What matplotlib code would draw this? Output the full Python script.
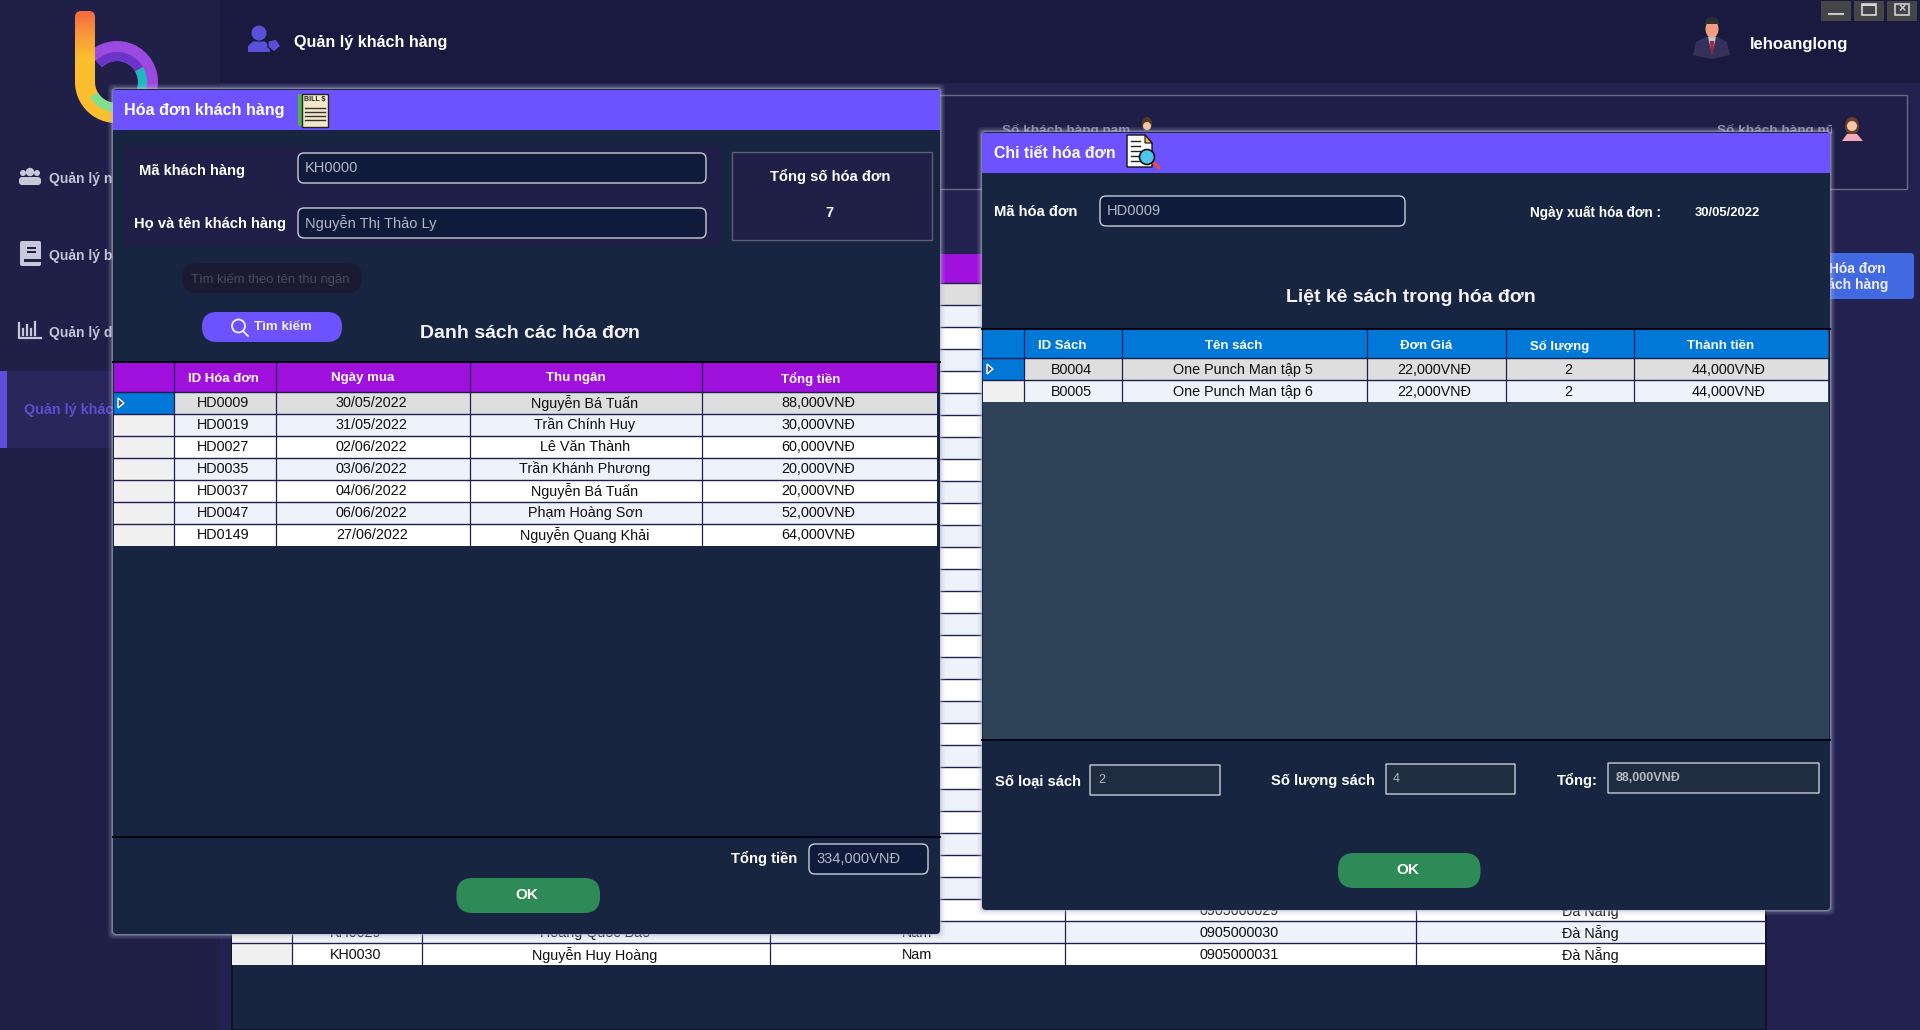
import matplotlib
matplotlib.use('Agg')
import matplotlib.pyplot as plt
import numpy as np
from matplotlib.patches import Rectangle, FancyBboxPatch, Circle, Wedge, Polygon, Ellipse

plt.rcParams['font.family'] = ['Liberation Sans', 'DejaVu Sans']

# ---- data ----
left_headers = ['ID Hóa đơn', 'Ngày mua', 'Thu ngân', 'Tổng tiền']
invoice_ids = ['HD0009', 'HD0019', 'HD0027', 'HD0035', 'HD0037', 'HD0047', 'HD0149']
invoice_dates = ['30/05/2022', '31/05/2022', '02/06/2022', '03/06/2022', '04/06/2022', '06/06/2022', '27/06/2022']
cashiers = ['Nguyễn Bá Tuấn', 'Trần Chính Huy', 'Lê Văn Thành', 'Trần Khánh Phương',
            'Nguyễn Bá Tuấn', 'Phạm Hoàng Sơn', 'Nguyễn Quang Khải']
invoice_totals = ['88,000VNĐ', '30,000VNĐ', '60,000VNĐ', '20,000VNĐ', '20,000VNĐ', '52,000VNĐ', '64,000VNĐ']

right_headers = ['ID Sách', 'Tên sách', 'Đơn Giá', 'Số lượng', 'Thành tiền']
book_ids = ['B0004', 'B0005']
book_names = ['One Punch Man tập 5', 'One Punch Man tập 6']
book_prices = ['22,000VNĐ', '22,000VNĐ']
book_qty = ['2', '2']
book_totals = ['44,000VNĐ', '44,000VNĐ']

back_ids = ['KH0029', 'KH0030']
back_names = ['Hoàng Quốc Bảo', 'Nguyễn Huy Hoàng']
back_genders = ['Nam', 'Nam']
back_phones = ['0905000029', '0905000030', '0905000031']
back_city = 'Đà Nẵng'
n_back_rows = 31

side_items = ['Quản lý nhân viên', 'Quản lý bán hàng', 'Quản lý doanh thu']
side_active = 'Quản lý khách hàng'

# ---- colours ----
C_SIDE = '#201F47'
C_TOP = '#1A1A40'
C_MAIN = '#232150'
C_BODY = '#182540'
C_HEAD = '#6C53FF'
C_BAND = '#1F1F47'
C_INPUT = '#101B3B'
C_PURPLE = '#A010DD'
C_BLUE = '#0078D7'
C_TINT = '#EDF2FB'
C_SEL = '#DEDEDE'
C_RH = '#F0F0F0'
C_GRID = '#1E1E50'
C_GREEN = '#2E8B57'

fig = plt.figure(figsize=(19.2, 10.3), dpi=100, facecolor=C_MAIN)
ax = fig.add_axes([0, 0, 1, 1])
ax.set_xlim(0, 1920)
ax.set_ylim(1030, 0)
ax.axis('off')


def rect(x0, y0, x1, y1, color, z, ec='none', lw=0):
    ax.add_patch(Rectangle((x0, y0), x1 - x0, y1 - y0, fc=color, ec=ec, lw=lw, zorder=z))


def rrect(x0, y0, x1, y1, r, color, z, ec='none', lw=0, alpha=None):
    ax.add_patch(FancyBboxPatch((x0, y0), x1 - x0, y1 - y0, boxstyle=f'round,pad=0,rounding_size={r}',
                                fc=color, ec=ec, lw=lw, zorder=z, alpha=alpha))


def txt(x, y, s, size=10, color='white', bold=False, ha='left', z=5):
    # +1: the screenshot text sits a pixel lower than va='center'
    return ax.text(x, y + 1, s, fontsize=size, color=color, fontweight='bold' if bold else 'normal',
                   ha=ha, va='center', zorder=z)


def grid_table(col_x, y_head, y_rows, z, head_color, headers, columns, head_shift, cell_shift, text_dy=0):
    # header, row header column, cell text
    rect(col_x[0], y_head, col_x[-1], y_rows[0], head_color, z)
    for i in range(len(y_rows) - 1):
        rect(col_x[0], y_rows[i], col_x[1], y_rows[i + 1], C_BLUE if i == 0 else C_RH, z)
        cell = C_SEL if i == 0 else (C_TINT if i % 2 else 'white')
        rect(col_x[1], y_rows[i], col_x[-1], y_rows[i + 1], cell, z)
    for x in col_x[1:-1]:
        ax.plot([x, x], [y_head, y_rows[-1]], color=C_GRID, lw=0.9, zorder=z + 0.1)
    for y in y_rows[:-1]:
        ax.plot([col_x[0], col_x[-1]], [y, y], color=C_GRID, lw=1, zorder=z + 0.1)
    yc = (y_head + y_rows[0]) / 2 + 1 + text_dy
    for j, h in enumerate(headers):
        txt((col_x[j + 1] + col_x[j + 2]) / 2 + head_shift[j], yc, h, size=9.5, bold=True, ha='center', z=z + 0.2)
    for j, col in enumerate(columns):
        for i, s in enumerate(col):
            txt((col_x[j + 1] + col_x[j + 2]) / 2 + cell_shift, (y_rows[i] + y_rows[i + 1]) / 2 + text_dy, s, size=10.4,
                color='#101010', ha='center', z=z + 0.2)
    # arrow of the selected row
    ax.add_patch(Polygon([[col_x[0] + 4, y_rows[0] + 6], [col_x[0] + 4, y_rows[0] + 16], [col_x[0] + 10, y_rows[0] + 11]],
                         fc='#555555', ec='white', lw=1, zorder=z + 0.2))


def dialog(x0, y0, x1, y1, y_head, z):
    # pale glow around the window
    for pad, a in [(5, 0.10), (3.5, 0.15), (2, 0.25), (1, 0.35)]:
        rrect(x0 - pad, y0 - pad, x1 + pad, y1 + pad, 5, '#B8B8D0', z, alpha=a)
    rrect(x0, y0, x1, y1, 4, C_BODY, z + 0.1)
    rect(x0, y0 + 1, x1, y_head, C_HEAD, z + 0.2)


def input_box(x0, y0, x1, y1, s, x_txt, z, r=6, fill=C_INPUT, size=10.5, color='#B4B8C4', bold=False, ec='#C8CCD4'):
    rrect(x0, y0, x1, y1, r, fill, z, ec=ec, lw=1)
    txt(x_txt, (y0 + y1) / 2 - 1, s, size=size, color=color, bold=bold, z=z + 0.1)


# ---- base screen ----
rect(0, 0, 220, 1030, C_SIDE, 1)
rect(220, 0, 1920, 83, C_TOP, 1)

# logo (y axis is flipped: data angle -90 is the top of the screen)
ax.add_patch(Wedge((117, 82), 41, -135, 60, width=20, fc='#9A4AE0', zorder=2))
ax.add_patch(Wedge((117, 82), 30, -135, -30, width=9, fc='#6A35C8', zorder=2.1))
ax.add_patch(Wedge((117, 82), 30, -30, 50, width=9, fc='#1FB8C0', zorder=2.1))
ax.add_patch(Wedge((116, 82), 41, 90, 180, width=20, fc='#FBBE2E', zorder=2.3))
ax.add_patch(Wedge((116, 82), 30, 50, 150, width=9, fc='#7FE08F', zorder=2.4))
grad = np.linspace(0, 1, 128).reshape(-1, 1)
stem_cmap = matplotlib.colors.LinearSegmentedColormap.from_list('stem', ['#F4693F', '#F89A3A', '#FBC02D', '#FBBE2E'])
stem = FancyBboxPatch((75, 11), 20, 85, boxstyle='round,pad=0,rounding_size=6', fc='none', ec='none', zorder=2.5)
ax.add_patch(stem)
im = ax.imshow(grad, extent=(75, 95, 83, 11), cmap=stem_cmap, aspect='auto', zorder=2.5)
im.set_clip_path(stem)
ax.set_xlim(0, 1920)
ax.set_ylim(1030, 0)

# sidebar items
side_y = [178, 255, 332]
for s, y in zip(side_items, side_y):
    txt(49, y, s, size=10, color='#C4C4D6', bold=True, z=2)
# people icon
for cx, r in [(23, 3), (30, 4.2), (37, 3)]:
    ax.add_patch(Circle((cx, 172 if cx == 30 else 173), r, fc='#C8C8D8', zorder=2))
rrect(19, 177, 41, 185, 3, '#C8C8D8', 2)
# book icon
rrect(20, 241, 41, 266, 2, '#C8C8D8', 2)
rect(24, 259, 41, 262, C_SIDE, 2.1)
rect(27, 247, 36, 249, C_SIDE, 2.1)
rect(27, 251, 36, 253, C_SIDE, 2.1)
# chart icon
ax.plot([19, 19, 41], [323, 338, 338], color='#C8C8D8', lw=1.6, zorder=2)
for x, h in [(23, 6), (27, 10), (31, 6), (35, 13)]:
    ax.plot([x, x], [335 - h, 335], color='#C8C8D8', lw=1.6, zorder=2)

rect(0, 371, 220, 448, '#28265A', 1.5)
rect(0, 371, 7, 448, '#5E4FDB', 1.6)
txt(24, 409, side_active, size=10.3, color='#5A4FD0', bold=True, z=2)

# top bar
ax.add_patch(Circle((259, 33), 7.5, fc='#5B4FD8', zorder=2))
ax.add_patch(Polygon([[248, 52], [248, 46], [253, 41.5], [265, 41.5], [270, 46], [270, 52]], fc='#5B4FD8', zorder=2))
ax.add_patch(Polygon([[268, 41], [276, 39], [281, 46], [274, 52], [268, 47]], fc='#5B4FD8', ec=C_TOP, lw=1, zorder=2.1))
txt(294, 42, 'Quản lý khách hàng', size=11.6, bold=True, z=2)
txt(1750, 43, 'lehoanglong', size=12, bold=True, z=2)
ax.add_patch(Polygon([[1693, 55], [1696, 42], [1706, 37], [1718, 37], [1727, 42], [1730, 55], [1712, 59]], fc='#34325A', zorder=2))
ax.add_patch(Polygon([[1708, 37], [1716, 37], [1712, 54]], fc='#BCC8D8', zorder=2.1))
ax.add_patch(Polygon([[1710, 41], [1714, 41], [1713, 53], [1711, 53]], fc='#9E1F2E', zorder=2.2))
ax.add_patch(Ellipse((1712, 29), 13, 18, fc='#F0A080', zorder=2.1))
ax.add_patch(Wedge((1712, 24), 7, 180, 360, fc='#2E2E32', zorder=2.2))
for x0 in [1821, 1854, 1887]:
    rect(x0, 1, x0 + 30, 21, '#454548', 2)
ax.plot([1829, 1843], [14, 14], color='#C8C8C8', lw=1.5, zorder=2.1)
rect(1862, 3.5, 1876, 15, 'none', 2.1, ec='#D8D8D8', lw=1.2)
rect(1862, 3.5, 1876, 6, '#D8D8D8', 2.1)
rect(1895, 4, 1909, 15, 'none', 2.1, ec='#D0D0D0', lw=1.2)
txt(1902, 8.5, '×', size=9, color='#D0D0D0', bold=True, ha='center', z=2.2)

# statistics panel behind dialogs
rect(232, 95, 1907, 189, '#1F1E48', 1.5, ec='#6B6B80', lw=1)
txt(1002, 129, 'Số khách hàng nam', size=9.7, color='#8C8CA4', bold=True, z=2)
t_nu = txt(1717, 129, 'Số khách hàng nữ', size=9.7, color='#8C8CA4', bold=True, z=2)
t_nu.set_clip_on(True)
t_nu.set_clip_path(Rectangle((1700, 100), 132, 40, transform=ax.transData))
ax.add_patch(Ellipse((1147, 124), 10, 14, fc='#5A3A22', zorder=2))
ax.add_patch(Circle((1147, 126), 4, fc='#F0C8A8', zorder=2.1))
ax.add_patch(Ellipse((1852, 126), 14, 18, fc='#6A4028', zorder=2))
ax.add_patch(Circle((1852, 126), 5, fc='#F4C8A8', zorder=2.1))
ax.add_patch(Polygon([[1842, 141], [1847, 134], [1857, 134], [1863, 141]], fc='#F2A8B8', zorder=2.1))

# blue side button, mostly under the right dialog
rrect(1780, 253, 1914, 299, 3, '#4169E1', 2)
txt(1829, 268, 'Hóa đơn', size=10, bold=True, color='#F0F0FF', z=2.1)
txt(1888, 284, 'khách hàng', size=10, bold=True, color='#F0F0FF', ha='right', z=2.1)

# customer table behind dialogs
rect(232, 253, 1766, 1029, C_BODY, 1.5)
ax.plot([232, 232, 1766, 1766], [253, 1029.5, 1029.5, 253], color='#101020', lw=1.2, zorder=1.6)
back_x = [232, 291.5, 421.5, 770, 1065, 1415.5, 1765]
back_rows = [283 + 22 * i for i in range(n_back_rows + 1)]
rect(back_x[0], 254, back_x[-1], back_rows[0], C_PURPLE, 1.7)
for i in range(n_back_rows):
    rect(back_x[0], back_rows[i], back_x[1], back_rows[i + 1], C_BLUE if i == 0 else C_RH, 1.7)
    cell = C_SEL if i == 0 else (C_TINT if i % 2 else 'white')
    rect(back_x[1], back_rows[i], back_x[-1], back_rows[i + 1], cell, 1.7)
for x in back_x[1:-1]:
    ax.plot([x, x], [254, back_rows[-1]], color=C_GRID, lw=0.9, zorder=1.8)
for y in back_rows[:-1]:
    ax.plot([back_x[0], back_x[-1]], [y, y], color=C_GRID, lw=1, zorder=1.8)
# only the last rows show from under the dialogs
last_y = [(back_rows[-3] + back_rows[-2]) / 2, (back_rows[-2] + back_rows[-1]) / 2]
for i in range(2):
    txt(356, last_y[i], back_ids[i], size=10.4, color='#101010', ha='center', z=1.9)
    txt(595, last_y[i], back_names[i], size=10.4, color='#101010', ha='center', z=1.9)
    txt(917, last_y[i], back_genders[i], size=10.4, color='#101010', ha='center', z=1.9)
for i, y in enumerate([last_y[0] - 22] + last_y):
    txt(1239, y, back_phones[i], size=10.4, color='#101010', ha='center', z=1.9)
    txt(1590, y, back_city, size=10.4, color='#101010', ha='center', z=1.9)

# ---- left dialog ----
Z1 = 10
dialog(113, 89, 940, 934, 130, Z1)
txt(124, 110, 'Hóa đơn khách hàng', size=11.6, bold=True, z=Z1 + 1)
rect(298, 94, 302, 126, '#4CAF50', Z1 + 1)
rect(302, 94, 328, 127, '#F3E7C9', Z1 + 1, ec='#222222', lw=1)
txt(315, 99, 'BILL $', size=5, color='#222222', bold=True, ha='center', z=Z1 + 2)
for y in [108, 112, 116, 120]:
    ax.plot([305, 325], [y, y], color='#333333', lw=1, zorder=Z1 + 2)

rect(124, 146, 722, 246, C_BAND, Z1 + 1)
txt(139, 170, 'Mã khách hàng', size=10.6, bold=True, z=Z1 + 2)
txt(134, 223, 'Họ và tên khách hàng', size=10.6, bold=True, z=Z1 + 2)
input_box(298, 153, 706, 183, 'KH0000', 305, Z1 + 2)
input_box(298, 208, 706, 238, 'Nguyễn Thị Thảo Ly', 305, Z1 + 2)
rect(732, 152, 932, 240, C_BAND, Z1 + 1, ec='#5A6072', lw=1)
txt(830, 175, 'Tổng số hóa đơn', size=10.6, bold=True, ha='center', z=Z1 + 2)
txt(829, 212, '7', size=10.6, bold=True, ha='center', z=Z1 + 2)

rrect(182, 263, 362, 293, 15, '#1A1A30', Z1 + 1)
txt(191, 278, 'Tìm kiếm theo tên thu ngân', size=9.4, color='#4A4A5C', z=Z1 + 2)
rrect(202, 312, 342, 342, 15, C_HEAD, Z1 + 1)
ax.add_patch(Circle((238.5, 326), 6.5, fc='none', ec='#F0F0FF', lw=1.3, zorder=Z1 + 2))
ax.plot([243, 248], [331, 336], color='#F0F0FF', lw=1.3, zorder=Z1 + 2)
txt(254, 326, 'Tìm kiếm', size=9.6, color='#F0F0FF', bold=True, z=Z1 + 2)
txt(530, 332, 'Danh sách các hóa đơn', size=14, color='#F4F4F8', bold=True, ha='center', z=Z1 + 2)

ax.plot([113, 940], [362, 362], color='#000010', lw=1.4, zorder=Z1 + 1)
ax.plot([113, 940], [837, 837], color='#000010', lw=1.4, zorder=Z1 + 1)
left_x = [114, 173.5, 275.5, 470, 702, 937]
left_rows = [392 + 22 * i for i in range(len(invoice_ids) + 1)]
grid_table(left_x, 363, left_rows, Z1 + 1, C_PURPLE, left_headers,
           [invoice_ids, invoice_dates, cashiers, invoice_totals], [-1, -10, -10, -9], -1, text_dy=-1)
txt(731, 857, 'Tổng tiền', size=10.6, bold=True, z=Z1 + 2)
input_box(809, 844, 928, 874, '334,000VNĐ', 816, Z1 + 2)
rrect(456.5, 878, 600, 913, 16, C_GREEN, Z1 + 1)
txt(527, 894, 'OK', size=11, bold=True, ha='center', z=Z1 + 2)

# ---- right dialog ----
Z2 = 20
dialog(982, 132, 1830, 910, 173, Z2)
txt(994, 153, 'Chi tiết hóa đơn', size=11.4, bold=True, z=Z2 + 1)
ax.add_patch(Polygon([[1127, 135], [1145, 135], [1152, 143], [1152, 167], [1127, 167]], fc='white', ec='#111111', lw=1, zorder=Z2 + 1))
ax.add_patch(Polygon([[1145, 135], [1152, 143], [1145, 143]], fc='#F5B942', ec='#111111', lw=0.8, zorder=Z2 + 1.1))
for y in [141, 146, 151, 156, 161]:
    ax.plot([1131, 1140], [y, y], color='#222222', lw=1, zorder=Z2 + 1.1)
ax.plot([1152, 1159], [161, 168], color='#E05050', lw=2.4, zorder=Z2 + 1.2)
ax.add_patch(Circle((1147, 157), 7.5, fc='#4FC3E8', ec='#111111', lw=1.2, zorder=Z2 + 1.3))

txt(994, 211, 'Mã hóa đơn', size=10.6, bold=True, z=Z2 + 1)
input_box(1100, 196, 1405, 226, 'HD0009', 1107, Z2 + 1)
txt(1530, 212, 'Ngày xuất hóa đơn :', size=9.8, bold=True, z=Z2 + 1)
txt(1695, 212, '30/05/2022', size=9.4, bold=True, z=Z2 + 1)
txt(1411, 297, 'Liệt kê sách trong hóa đơn', size=14, color='#F4F4F8', bold=True, ha='center', z=Z2 + 1)

rect(983, 330, 1829, 740, '#2F4358', Z2 + 1)
ax.plot([982, 1830], [329, 329], color='#000010', lw=1.4, zorder=Z2 + 1.1)
ax.plot([982, 1830], [740, 740], color='#000010', lw=1.4, zorder=Z2 + 1.1)
right_x = [983, 1024, 1122, 1367, 1506, 1634, 1828]
right_rows = [358 + 22 * i for i in range(len(book_ids) + 1)]
grid_table(right_x, 330, right_rows, Z2 + 2, C_BLUE, right_headers,
           [book_ids, book_names, book_prices, book_qty, book_totals], [-10.5] * 5, -2)

txt(995, 781, 'Số loại sách', size=10.6, bold=True, z=Z2 + 1)
input_box(1090, 765, 1220, 795, '2', 1098, Z2 + 1, r=0.5, fill='#202D40', size=9)
txt(1271, 780, 'Số lượng sách', size=10.6, bold=True, z=Z2 + 1)
input_box(1386, 764, 1515, 794, '4', 1393, Z2 + 1, r=0.5, fill='#202D40', size=9)
txt(1557, 779, 'Tổng:', size=10.6, bold=True, z=Z2 + 1)
input_box(1608, 763, 1819, 793, '88,000VNĐ', 1616, Z2 + 1, r=0.5, fill='#202D40', size=9, bold=True)
rrect(1338, 853, 1480.5, 888, 16, C_GREEN, Z2 + 1)
txt(1408, 869, 'OK', size=11, bold=True, ha='center', z=Z2 + 2)

fig.savefig('out.png', dpi=100, facecolor=fig.get_facecolor())
